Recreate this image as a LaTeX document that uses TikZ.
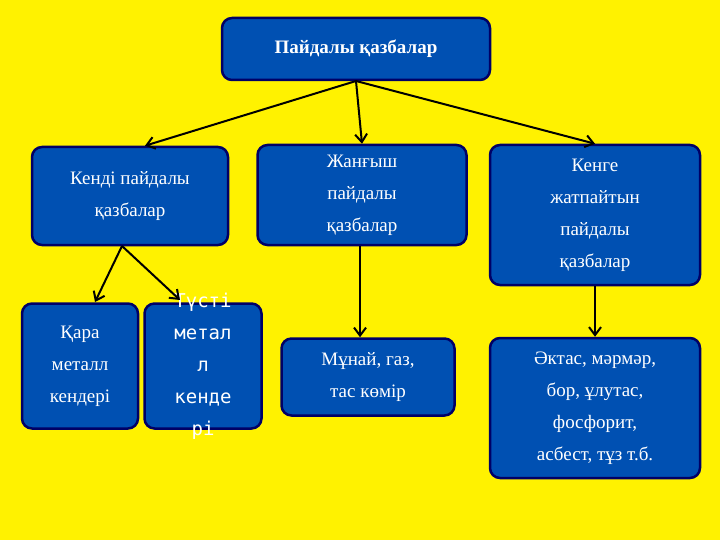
\documentclass[tikz,border=0pt]{standalone}
\usepackage{fontspec}
\setmainfont{Liberation Serif}
\newfontfamily\monof{DejaVu Sans Mono}
\usetikzlibrary{arrows.meta}
\begin{document}
\begin{tikzpicture}[x=1pt,y=-1pt,
  box/.style={draw=black!60!blue, line width=2.5pt, fill=blue!55!cyan!70!black, rounded corners=10pt, text=white, font=\fontsize{19}{32}\selectfont, align=center, inner sep=0pt},
  arr/.style={-{Straight Barb[length=8pt,width=12pt]}, line width=2pt}]
\fill[yellow] (0,0) rectangle (720,540);
\useasboundingbox (0,0) rectangle (720,540);
\node[box, minimum width=268pt, minimum height=62pt, font=\bfseries\fontsize{19}{24}\selectfont] (top) at (356,49) {Пайдалы қазбалар};
\node[box, minimum width=196pt, minimum height=98pt] (b1) at (130,196) {Кенді пайдалы\\қазбалар};
\node[box, minimum width=209pt, minimum height=100pt] (b2) at (362,195) {Жанғыш\\пайдалы\\қазбалар};
\node[box, minimum width=210pt, minimum height=140pt] (b3) at (595,215) {Кенге\\жатпайтын\\пайдалы\\қазбалар};
\node[box, minimum width=116pt, minimum height=125pt] (b4) at (80,366) {Қара\\металл\\кендері};
\node[box, minimum width=117pt, minimum height=125pt] (b5) at (203,366) {};
\node[text=white, align=center, font=\monof\fontsize{19}{32}\selectfont] (t5) at (203,366) {Түсті\\метал\\л\\кенде\\рі};
\node[box, minimum width=173pt, minimum height=77pt] (b6) at (368,377) {Мұнай, газ,\\тас көмір};
\node[box, minimum width=210pt, minimum height=140pt] (b7) at (595,408) {Әктас, мәрмәр,\\бор, ұлутас,\\фосфорит,\\асбест, тұз т.б.};
\coordinate (tb) at (356,81);
\draw[arr] (tb) -- ([xshift=15pt]b1.north);
\draw[arr] (tb) -- (b2.north);
\draw[arr] (tb) -- (b3.north);
\coordinate (s1) at (122,246);
\draw[arr] (s1) -- (95,302);
\draw[arr] (s1) -- (180,300);
\draw[arr] (360,246) -- (b6.north -| 360,0);
\draw[arr] (595,286) -- (b7.north);
\end{tikzpicture}
\end{document}
